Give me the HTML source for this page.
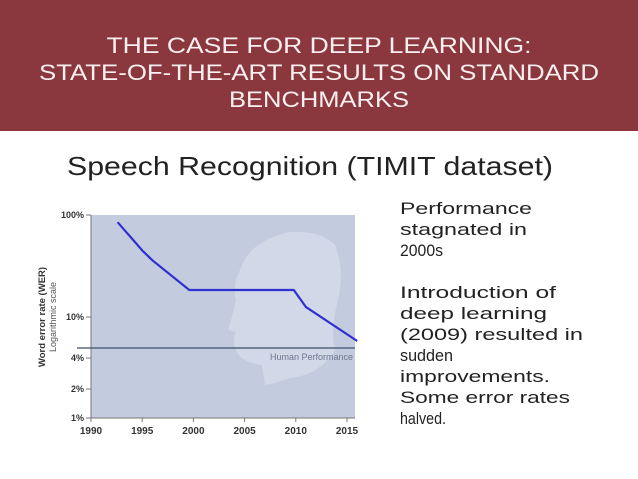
<!DOCTYPE html>
<html><head><meta charset="utf-8"><style>
html,body{margin:0;padding:0;background:#fff;}
svg{display:block;font-family:"Liberation Sans",sans-serif;}
</style></head><body>
<svg id="root" width="638" height="479" viewBox="0 0 638 479">
<rect x="0" y="0" width="638" height="131" fill="#8a383e"/>
<g fill="#fbeff0" font-size="22" text-anchor="middle">
<text x="319" y="53" textLength="425" lengthAdjust="spacingAndGlyphs">THE CASE FOR DEEP LEARNING:</text>
<text x="319" y="80" textLength="560" lengthAdjust="spacingAndGlyphs">STATE-OF-THE-ART RESULTS ON STANDARD</text>
<text x="319" y="107" textLength="180" lengthAdjust="spacingAndGlyphs">BENCHMARKS</text>
</g>
<text x="67" y="175" font-size="26" fill="#222" textLength="486" lengthAdjust="spacingAndGlyphs">Speech Recognition (TIMIT dataset)</text>
<g font-size="17" fill="#222" lengthAdjust="spacingAndGlyphs">
<text x="400" y="214" textLength="132" lengthAdjust="spacingAndGlyphs">Performance</text>
<text x="400" y="235" textLength="127" lengthAdjust="spacingAndGlyphs">stagnated in</text>
<text x="400" y="256" textLength="43" lengthAdjust="spacingAndGlyphs">2000s</text>
<text x="400" y="298" textLength="156" lengthAdjust="spacingAndGlyphs">Introduction of</text>
<text x="400" y="319" textLength="147" lengthAdjust="spacingAndGlyphs">deep learning</text>
<text x="400" y="340" textLength="183" lengthAdjust="spacingAndGlyphs">(2009) resulted in</text>
<text x="400" y="361" textLength="53" lengthAdjust="spacingAndGlyphs">sudden</text>
<text x="400" y="382" textLength="150" lengthAdjust="spacingAndGlyphs">improvements.</text>
<text x="400" y="403" textLength="170" lengthAdjust="spacingAndGlyphs">Some error rates</text>
<text x="400" y="424" textLength="46" lengthAdjust="spacingAndGlyphs">halved.</text>
</g>
<g id="chart"></g>
</svg>
<script>
const years = [1992.6, 1995, 1996, 1999.6, 2009.8, 2011, 2016];
const werValues = [85, 45, 36, 18.4, 18.4, 12.5, 5.85];
const humanPerformance = 5.0;
const yTickLabels = ["100%", "10%", "4%", "2%", "1%"];
const yTickValues = [100, 10, 4, 2, 1];
const xTickValues = [1990, 1995, 2000, 2005, 2010, 2015];

const NS = "http://www.w3.org/2000/svg";
const g = document.getElementById("chart");
const X0 = 91, X1 = 355, Y0 = 215, Y1 = 418;
const tickPx = [215, 317, 358, 389, 418];
function xScale(yr){ return X0 + (yr - 1990) * 10.24; }
function yScale(v){
  for (let i = 0; i < yTickValues.length - 1; i++) {
    const a = yTickValues[i], b = yTickValues[i+1];
    if (v <= a && v >= b || i === yTickValues.length - 2) {
      const f = Math.log(a / v) / Math.log(a / b);
      return tickPx[i] + f * (tickPx[i+1] - tickPx[i]);
    }
  }
}
function mk(tag, attrs){ const e = document.createElementNS(NS, tag); for (const k in attrs) e.setAttribute(k, attrs[k]); g.appendChild(e); return e; }

const bg = mk("rect", {x: X0, y: Y0, width: X1 - X0, height: Y1 - Y0, fill: "#c3cbdf"});


const head = mk("path", {d: "M265 385 L262 365 Q240 362 236 350 Q232 340 236 332 L228 330 Q232 318 236 300 Q232 285 240 270 Q250 240 290 232 Q320 230 335 245 Q345 270 338 300 Q330 330 335 350 Q320 375 290 378 Q280 382 265 385 Z", fill: "#d6dcea", opacity: "0.75"});


const yAxis = mk("line", {x1: X0, y1: Y0, x2: X0, y2: Y1, stroke: "#777", "stroke-width": 1});


const xAxis = mk("line", {x1: X0, y1: Y1, x2: X1, y2: Y1, stroke: "#777", "stroke-width": 1});



yTickValues.forEach((v, i) => {
  const y = yScale(v);
  const t = mk("line", {x1: X0 - 5, y1: y, x2: X0, y2: y, stroke: "#777"});
  
  
  const l = mk("text", {x: X0 - 7, y: y + 3, "font-size": 9, fill: "#333", "text-anchor": "end", "font-weight": "bold"});
  l.textContent = yTickLabels[i];
  
  
});
xTickValues.forEach(v => {
  const x = xScale(v);
  const t = mk("line", {x1: x, y1: Y1, x2: x, y2: Y1 + 4, stroke: "#777"});
  
  
  const l = mk("text", {x: x, y: Y1 + 16, "font-size": 10, fill: "#333", "text-anchor": "middle", "font-weight": "bold"});
  l.textContent = v;
  
  
});
const yt = mk("text", {transform: "translate(45,317) rotate(-90)", "font-size": 9.5, "font-weight": "bold", fill: "#333", "text-anchor": "middle"});
yt.textContent = "Word error rate (WER)";


const ys = mk("text", {transform: "translate(56,317) rotate(-90)", "font-size": 9, fill: "#555", "text-anchor": "middle"});
ys.textContent = "Logarithmic scale";



const hy = yScale(humanPerformance);
const hl = mk("line", {x1: 77, y1: hy, x2: X1, y2: hy, stroke: "#3a4f6a", "stroke-width": 1.3});


const ht = mk("text", {x: X1 - 2, y: hy + 12, "font-size": 9, fill: "#6d7890", "text-anchor": "end"});
ht.textContent = "Human Performance";



const pts = years.map((yr, i) => xScale(yr).toFixed(1) + "," + yScale(werValues[i]).toFixed(1)).join(" ");
const line = mk("polyline", {points: pts, fill: "none", stroke: "#3030d0", "stroke-width": 2.2, "stroke-linejoin": "round"});


</script>
</body></html>
